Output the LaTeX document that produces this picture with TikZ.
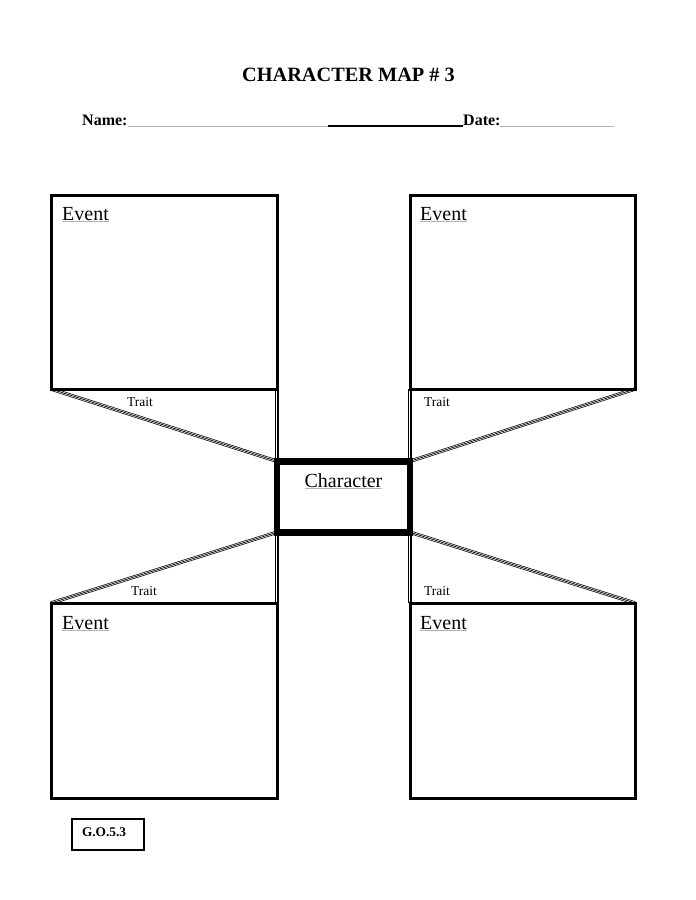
\documentclass[tikz,border=0pt]{standalone}
\usepackage{fontspec}
\setmainfont{Liberation Serif}
\newcommand{\grayul}[1]{\textcolor{gray!60}{\underline{\textcolor{black}{#1}}}}
\begin{document}
\begin{tikzpicture}[x=1pt,y=-1pt,
  eventbox/.style={draw=black,line width=3pt,rectangle,outer sep=0pt,inner sep=0pt,minimum width=226pt,minimum height=194pt},
  charbox/.style={draw=black,line width=6.5pt,rectangle,outer sep=0pt,inner sep=0pt,minimum width=133pt,minimum height=71pt},
  triple/.style={draw=black,line width=3.4pt,postaction={draw=white,line width=2pt},postaction={draw=black,line width=0.7pt}},
  lbl/.style={font=\fontsize{20}{24}\selectfont,inner sep=0pt,anchor=base west},
  traitlbl/.style={font=\fontsize{13.5}{16}\selectfont,inner sep=0pt},
  boldlbl/.style={font=\bfseries\fontsize{16}{19}\selectfont,inner sep=0pt,anchor=base west},
  blank/.style={draw=gray!60,line width=0.7pt},
  blankdark/.style={draw=black,line width=1.2pt}
]
\useasboundingbox[fill=white] (0,0) rectangle (696,900);

% title
\node[font=\bfseries\fontsize{20.3}{24}\selectfont,inner sep=0pt] (title) at (348.5,75) {CHARACTER MAP \# 3};

% name / date line
\node[boldlbl] (name) at (82,125) {Name:};
\coordinate (n1) at (128,126);
\coordinate (n2) at (328,126);
\coordinate (n3) at (463,126);
\coordinate (d1) at (500,126);
\coordinate (d2) at (614,126);
\draw[blank] (n1) -- (n2);
\draw[blankdark] (n2) -- (n3);
\node[boldlbl] (date) at (463,125) {Date:};
\draw[blank] (d1) -- (d2);

% boxes
\node[eventbox] (tl) at (164,292) {};
\node[eventbox,minimum width=225pt] (tr) at (522.5,292) {};
\node[eventbox,minimum height=195pt] (bl) at (164,700.5) {};
\node[eventbox,minimum width=225pt,minimum height=195pt] (br) at (522.5,700.5) {};
\node[charbox] (ch) at (343.5,496.75) {};

% trait connectors
\draw[triple] (tl.south west) -- (ch.north west);
\draw[triple] (tl.south east) -- (ch.north west);
\draw[triple] (tr.south east) -- (ch.north east);
\draw[triple] (tr.south west) -- (ch.north east);
\draw[triple] (bl.north west) -- (ch.south west);
\draw[triple] (bl.north east) -- (ch.south west);
\draw[triple] (br.north east) -- (ch.south east);
\draw[triple] (br.north west) -- (ch.south east);

% redraw boxes on top
\draw[line width=3pt] (tl.south west) rectangle (tl.north east);
\draw[line width=3pt] (tr.south west) rectangle (tr.north east);
\draw[line width=3pt] (bl.south west) rectangle (bl.north east);
\draw[line width=3pt] (br.south west) rectangle (br.north east);
\draw[line width=6.5pt] (ch.south west) rectangle (ch.north east);

% labels
\node[lbl] (e1) at (62,220) {\grayul{Event}};
\node[lbl] (e2) at (420,220) {\grayul{Event}};
\node[lbl] (e3) at (62,629) {\grayul{Event}};
\node[lbl] (e4) at (420,629) {\grayul{Event}};
\node[lbl,anchor=base] (chl) at (343.5,487) {\grayul{Character}};

\node[traitlbl] (t1) at (140,402) {Trait};
\node[traitlbl] (t2) at (437,402) {Trait};
\node[traitlbl] (t3) at (144,591) {Trait};
\node[traitlbl] (t4) at (437,591) {Trait};

% code box
\node[draw=black,line width=2pt,minimum width=72pt,minimum height=31pt,inner sep=0pt] (go) at (108,834) {};
\node[font=\bfseries\fontsize{13.3}{15}\selectfont,inner sep=0pt] (gol) at (104,832) {G.O.5.3};
\end{tikzpicture}
\end{document}
